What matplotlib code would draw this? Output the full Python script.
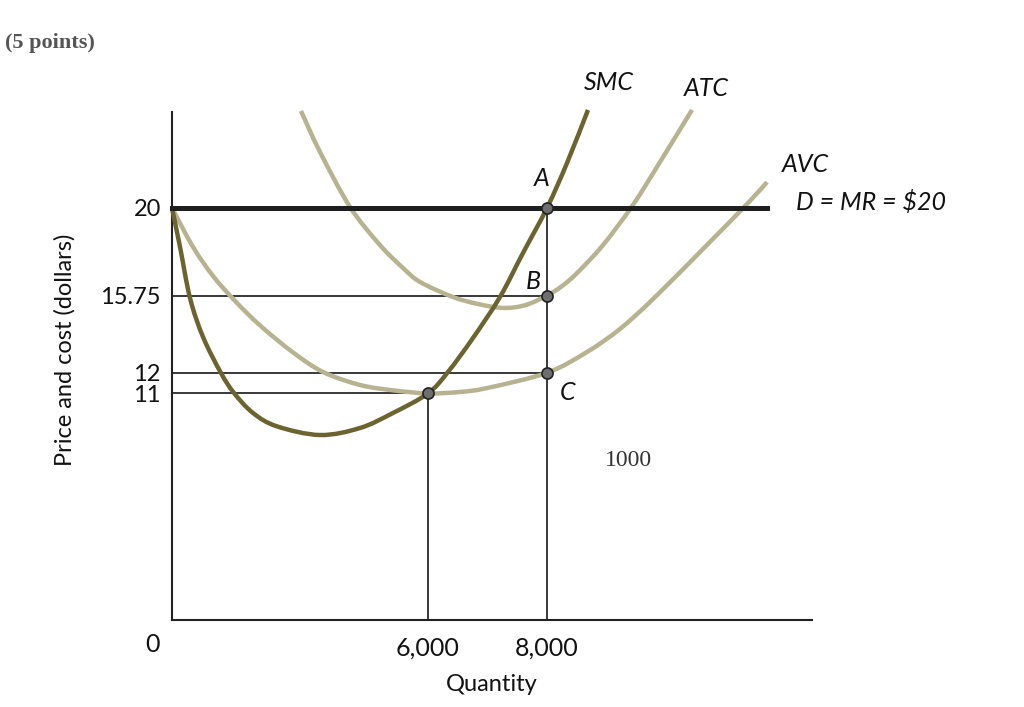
import numpy as np
import matplotlib
matplotlib.use("Agg")
import matplotlib.pyplot as plt
from matplotlib.path import Path
from matplotlib.patches import PathPatch

# ---- data ----
smc_q = [0, 188, 422, 727, 1148, 1453, 1898, 2461, 3469, 4406, 5180, 6000, 6336, 6756, 7210, 7597, 8000, 8336, 8689]
smc_p = [20.0, 18.11, 15.63, 13.74, 11.99, 11.02, 10.05, 9.40, 8.98, 9.32, 10.05, 11.0, 12.04, 13.69, 15.68, 17.82, 20.0, 22.18, 24.76]

avc_q = [0, 492, 961, 1477, 2063, 2836, 3539, 4406, 5180, 6000, 6538, 6992, 8000, 8672, 9227, 9782, 10622, 11378, 11697]
avc_p = [20.0, 18.11, 16.70, 15.49, 14.30, 12.99, 12.04, 11.41, 11.15, 11.0, 11.07, 11.26, 12.0, 13.01, 14.13, 15.58, 18.01, 20.24, 21.26]

atc_q = [3023, 3469, 4172, 4875, 5414, 5813, 6420, 6840, 7261, 7630, 8000, 8252, 8504, 8941, 9445, 9899, 10437]
atc_p = [24.71, 22.72, 20.05, 18.20, 17.09, 16.41, 15.68, 15.34, 15.15, 15.28, 15.75, 16.21, 16.84, 18.20, 20.15, 22.23, 24.76]

price = 20
d_q = [0, 11700]
ytick_vals = [20, 15.75, 12, 11]
ytick_labels = ["20", "15.75", "12", "11"]
xtick_vals = [6000, 8000]
xtick_labels = ["6,000", "8,000"]
q_a, q_c = 8000, 6000
p_b, p_c, p_min = 15.75, 12, 11

# ---- piecewise quantity scale (textbook axis is not uniform) ----
def fwd(q):
    q = np.asarray(q, dtype=float)
    return np.where(q <= 6000, q / 6000 * 256, 256 + (q - 6000) * 119 / 2000)

def inv(x):
    x = np.asarray(x, dtype=float)
    return np.where(x <= 256, x / 256 * 6000, 6000 + (x - 256) * 2000 / 119)

fig = plt.figure(figsize=(10.24, 7.07), dpi=100)
ax = fig.add_axes([172 / 1024, (707 - 620) / 707, 640 / 1024, 508 / 707])
ax.set_xscale("function", functions=(fwd, inv))
ax.set_xlim(0, 12454)
ax.set_ylim(0, 24.66)

for s in ["top", "right"]:
    ax.spines[s].set_visible(False)
for s in ["left", "bottom"]:
    ax.spines[s].set_linewidth(1.5)
    ax.spines[s].set_color("#222222")

font = "Lato"
dark = "#6b6431"
light = "#b7b391"
thin = "#2a2a2a"


def smooth_curve(qs, ps, color, z):
    """Draw a smooth (Catmull-Rom Bezier) path through the read points,
    in the axis' scaled space, then through the axes' affine transform."""
    xs = ax.xaxis.get_transform().transform(np.asarray(qs, dtype=float))
    pts = np.column_stack([xs, np.asarray(ps, dtype=float)])
    n = len(pts)
    verts = [pts[0]]
    codes = [Path.MOVETO]
    for i in range(n - 1):
        p0 = pts[i - 1] if i > 0 else pts[i]
        p1 = pts[i]
        p2 = pts[i + 1]
        p3 = pts[i + 2] if i + 2 < n else pts[i + 1]
        c1 = p1 + (p2 - p0) / 6.0
        c2 = p2 - (p3 - p1) / 6.0
        verts += [c1, c2, p2]
        codes += [Path.CURVE4] * 3
    patch = PathPatch(Path(verts, codes), facecolor="none", edgecolor=color, lw=3.2,
                      capstyle="butt", joinstyle="round",
                      transform=ax.transLimits + ax.transAxes, zorder=z, clip_on=False)
    ax.add_patch(patch)


# guide lines
ax.plot([0, q_a], [p_b, p_b], color=thin, lw=1.3, zorder=2)
ax.plot([0, q_a], [p_c, p_c], color=thin, lw=1.3, zorder=2)
ax.plot([0, q_c], [p_min, p_min], color=thin, lw=1.3, zorder=2)
ax.plot([q_c, q_c], [0, p_min], color=thin, lw=1.3, zorder=2)
ax.plot([q_a, q_a], [0, price], color=thin, lw=1.3, zorder=2)

# curves
smooth_curve(atc_q, atc_p, light, 3)
smooth_curve(avc_q, avc_p, light, 3)
smooth_curve(smc_q, smc_p, dark, 4)
ax.plot(d_q, [price, price], color="#1e1e1e", lw=3.6, clip_on=False, zorder=5)

# points
ax.plot([q_a, q_a, q_a, q_c], [price, p_b, p_c, p_min], "o", ms=8,
        mfc="#6e6e6e", mec="#222222", mew=1.2, zorder=6, clip_on=False)

# ticks
ax.tick_params(axis="both", length=0)
ax.set_yticks(ytick_vals)
ax.set_yticklabels(ytick_labels, fontsize=17, family=font, color="#111111")
ax.tick_params(axis="y", pad=8)
ax.set_xticks(xtick_vals)
ax.set_xticklabels(xtick_labels, fontsize=18, family=font, color="#111111")
ax.tick_params(axis="x", pad=12)
fig.text(152 / 1024, 1 - 645 / 707, "0", fontsize=18, family=font, ha="center", va="center", color="#111111")

ax.set_xlabel("Quantity", fontsize=17, family=font, labelpad=10, color="#111111")
fig.text(65 / 1024, 1 - 350 / 707, "Price and cost (dollars)", rotation=90, fontsize=17,
         family=font, ha="center", va="center", color="#111111")

# curve labels
def lab(x, y, s, size=18, style="italic"):
    fig.text(x / 1024, 1 - y / 707, s, fontsize=size, family=font, style=style,
             ha="center", va="center", color="#111111")

lab(609, 82, "SMC")
lab(706, 88, "ATC")
lab(805, 165, "AVC")
lab(871, 202, "D = MR = $20")
lab(542, 178, "A")
lab(533, 281, "B")
lab(568, 393, "C")

fig.text(5 / 1024, 1 - 43 / 707, "(5 points)", fontsize=16, family="Liberation Serif",
         weight="bold", ha="left", va="center", color="#555555")
fig.text(628 / 1024, 1 - 460 / 707, "1000", fontsize=17, family="Liberation Serif",
         ha="center", va="center", color="#333333")

fig.savefig("out.png", dpi=100)
